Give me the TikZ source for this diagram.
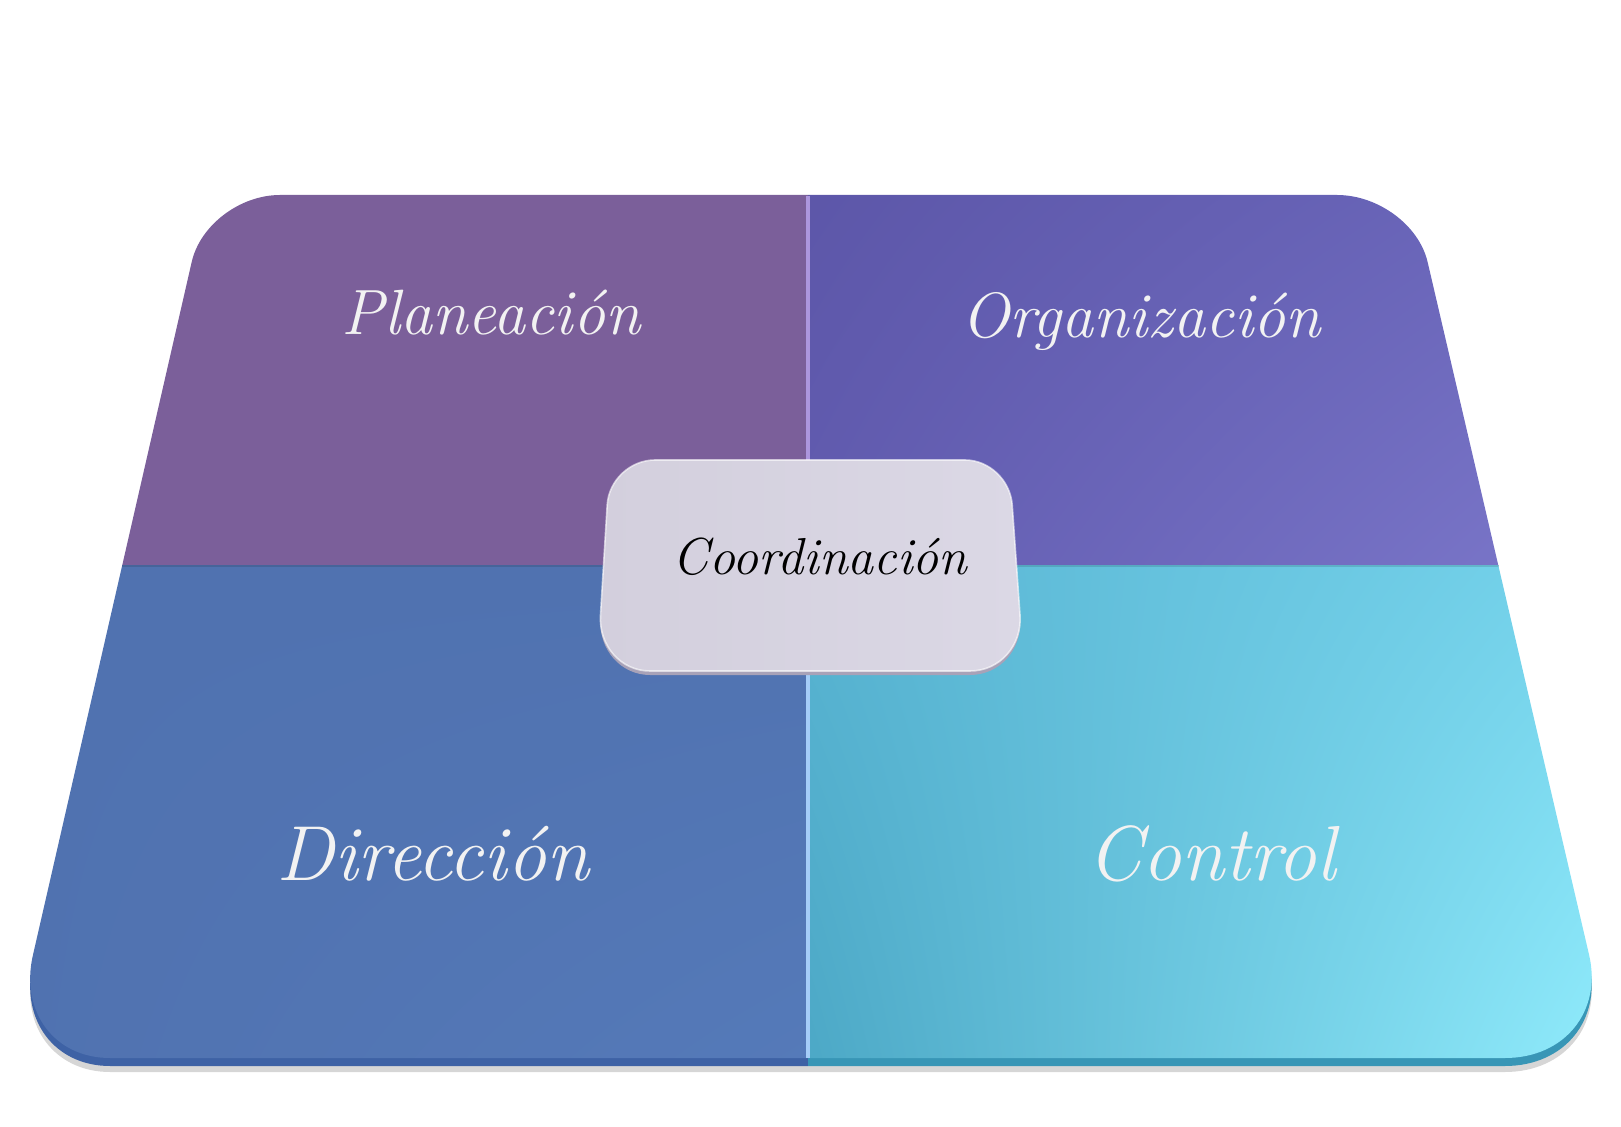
\documentclass[tikz,border=0pt]{standalone}
\usepackage{tikz}
\usetikzlibrary{shadings}

\definecolor{planeacion}{RGB}{123,95,154}
\definecolor{orgtl}{RGB}{92,86,168}
\definecolor{orgtr}{RGB}{106,102,186}
\definecolor{orgbl}{RGB}{98,92,176}
\definecolor{orgbr}{RGB}{124,120,203}
\definecolor{dirtl}{RGB}{80,114,176}
\definecolor{dirbr}{RGB}{85,122,185}
\definecolor{ctrltl}{RGB}{88,180,210}
\definecolor{ctrltr}{RGB}{118,212,236}
\definecolor{ctrlbl}{RGB}{76,168,198}
\definecolor{ctrlbr}{RGB}{146,237,253}
\definecolor{dirdark}{RGB}{62,98,165}
\definecolor{ctrldark}{RGB}{56,150,182}
\definecolor{divup}{RGB}{172,150,222}
\definecolor{divdown}{RGB}{165,205,248}
\definecolor{coordfill}{RGB}{211,207,221}
\definecolor{coordright}{RGB}{219,216,229}
\definecolor{coorddark}{RGB}{168,162,184}
\definecolor{labelwhite}{RGB}{242,242,242}

% outline of the board and of the middle box, in pixels
\newcommand{\boardpath}{(280,195) -- (1337,195)
  .. controls (1378.3,195) and (1419,225.2) .. (1427.6,262)
  -- (1589.1,955) .. controls (1602.2,1011.7) and (1564.4,1058) .. (1505,1058)
  -- (110,1058) .. controls (54.45,1058) and (19.8,1011.7) .. (32.96,955)
  -- (191.7,262) .. controls (200.1,225.1) and (239.9,195) .. (280,195) -- cycle}
\newcommand{\coordpath}{(655,460) -- (965,460)
  .. controls (989.2,460) and (1010.4,480.2) .. (1012.2,505)
  -- (1020,615) .. controls (1022.2,645.8) and (999.7,671) .. (970,671)
  -- (650,671) .. controls (620.9,671) and (598.6,645.8) .. (600.5,615)
  -- (607.2,505) .. controls (608.7,480.2) and (630.2,460) .. (655,460) -- cycle}

\tikzset{
  quadlabel/.style={text=labelwhite, anchor=base, inner sep=0pt,
    font=\itshape\fontsize{32}{38}\selectfont},
  lowlabel/.style={quadlabel, font=\itshape\fontsize{39}{45}\selectfont},
  coordlabel/.style={text=black, anchor=base, inner sep=0pt,
    font=\itshape\fontsize{26}{31}\selectfont}
}

\begin{document}
\begin{tikzpicture}[x=0.5pt, y=-0.5pt]
\useasboundingbox (0,0) rectangle (1621,1127);

% shadow and thickness of the board
\fill[black, opacity=.16, yshift=-7pt] \boardpath;
\begin{scope}[yshift=-4pt]
\clip \boardpath;
\fill[dirdark] (0,500) rectangle (808,1127);
\fill[ctrldark] (808,500) rectangle (1621,1127);
\end{scope}

% the four quadrants
\begin{scope}
\clip \boardpath;
\fill[planeacion] (0,150) rectangle (808,566);
\shade[upper left=orgtl, upper right=orgtr, lower left=orgbl, lower right=orgbr]
  (808,150) rectangle (1621,566);
\shade[upper left=dirtl, upper right=dirtl, lower left=dirtl, lower right=dirbr]
  (0,566) rectangle (808,1070);
\shade[upper left=ctrltl, upper right=ctrltr, lower left=ctrlbl, lower right=ctrlbr]
  (808,566) rectangle (1621,1070);
\end{scope}

% dividers
\coordinate (ntop) at (808,196);
\coordinate (nmid) at (808,566);
\coordinate (nbot) at (808,1058);
\coordinate (wmid) at (122,566);
\coordinate (emid) at (1499,566);
\draw[black, opacity=.12, line width=0.6pt] (wmid) -- (emid);
\draw[divup, line width=1.6pt] (ntop) -- (nmid);
\draw[divdown, line width=1.6pt] (nmid) -- (nbot);

% middle box
\fill[coorddark, yshift=-2pt] \coordpath;
\shade[left color=coordfill, right color=coordright] \coordpath;
\draw[white, opacity=.6, line width=0.8pt] \coordpath;

% labels
\node[quadlabel] (plan) at (491,335) {Planeación};
\node[quadlabel] (org) at (1141,338) {Organización};
\node[lowlabel] (dir) at (433,880) {Dirección};
\node[lowlabel] (ctrl) at (1212,880) {Control};
\node[coordlabel] (coord) at (820,575) {Coordinación};
\end{tikzpicture}
\end{document}
